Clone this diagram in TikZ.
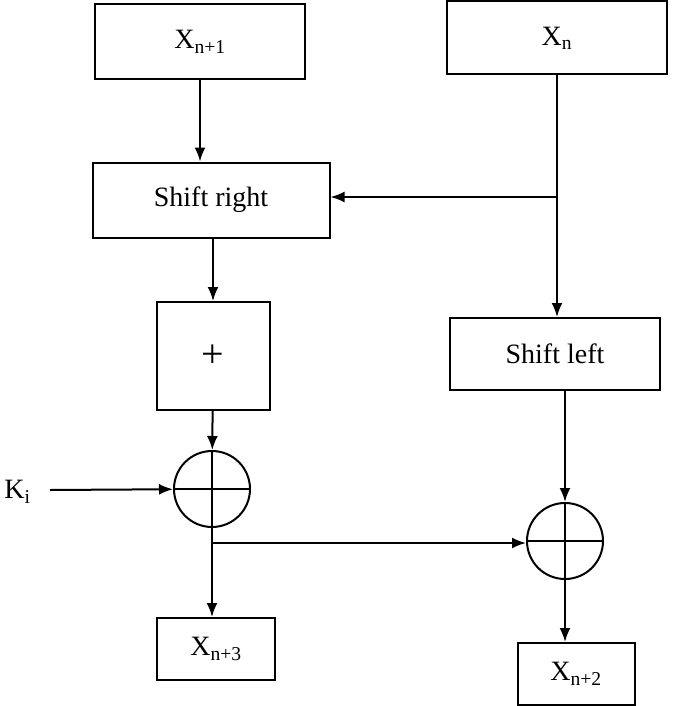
\documentclass[tikz,border=0pt]{standalone}
\usepackage{fontspec}
\setmainfont{Liberation Serif}
\usetikzlibrary{arrows.meta}
\begin{document}
\begin{tikzpicture}[x=1pt,y=-1pt,line width=2pt,
  box/.style={draw,minimum width=#1,inner sep=0pt,font=\fontsize{28}{32}\selectfont},
  xo/.style={draw,circle,minimum size=76pt,inner sep=0pt},
  arr/.style={-{Latex[length=14pt,width=11pt]}}]
\useasboundingbox (0,0) rectangle (685,706);
\node[box=210pt,minimum height=75pt] (xn1) at (200,42) {X\textsubscript{n+1}};
\node[box=220pt,minimum height=73pt] (xn) at (557,38) {X\textsubscript{n}};
\node[box=237pt,minimum height=75pt] (sr) at (211,200) {Shift right};
\node[box=113pt,minimum height=108pt,font=\fontsize{40}{44}\selectfont] (plus) at (213,356) {+};
\node[box=210pt,minimum height=72pt] (sl) at (555,354) {Shift left};
\node[xo] (c1) at (212,489) {};
\node[xo] (c2) at (565,541) {};
\foreach \c in {c1,c2}{
  \draw (\c.west) -- (\c.east);
  \draw (\c.north) -- (\c.south);}
\node[box=118pt,minimum height=62pt] (x3) at (216,649) {X\textsubscript{n+3}};
\node[box=117pt,minimum height=62pt] (x2) at (576,674) {X\textsubscript{n+2}};
\node[font=\fontsize{28}{32}\selectfont,anchor=west] (k) at (0,492) {K\textsubscript{i}};
\coordinate (kend) at (50,490);
\coordinate (br) at (557,197);
\coordinate (j1) at (212,543);
\draw[arr] (xn1) -- (xn1|-sr.north);
\draw[arr] (xn.south) -- (xn.south|-sl.north);
\draw[arr] (br) -- (sr.east|-br);
\draw[arr] (sr.south-|plus) -- (plus);
\draw[arr] (plus) -- (c1);
\draw[arr] (kend) -- (c1);
\draw[arr] (c1.south) -- (c1.south|-x3.north);
\draw[arr] (j1) -- (c2.west|-j1);
\draw[arr] (sl.south-|c2) -- (c2);
\draw[arr] (c2) -- (c2|-x2.north);
\end{tikzpicture}
\end{document}
